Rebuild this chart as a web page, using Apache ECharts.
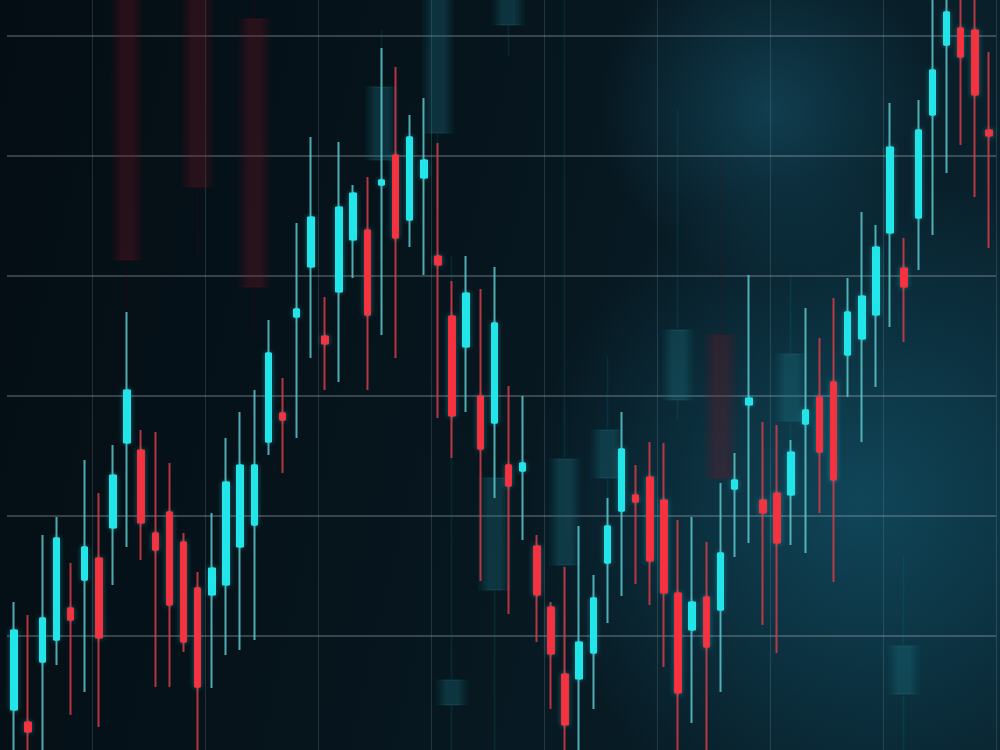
<!DOCTYPE html>
<html>
<head>
<meta charset="utf-8">
<style>
html,body{margin:0;padding:0;background:#06121a;overflow:hidden;width:1000px;height:750px;}
#c{position:absolute;left:0;top:-24px;width:1000px;height:780px;}
</style>
<script src="https://cdn.jsdelivr.net/npm/echarts@6/dist/echarts.min.js"></script>
</head>
<body>
<div id="c"></div>
<script>
// ---- data (price units) ----
const categories = Array.from({length: 70}, (_, i) => 'T' + (i + 1));
const opens  = [46,34,94,116,148,176,198,228,313,306,223,244,214,168,161,171,209,231,314,343,439,489,420,464,516,526,571,601,536,578,500,440,409,360,333,291,285,210,149,82,77,103,193,245,261,279,256,163,126,159,146,267,351,256,263,261,332,359,374,401,417,441,523,488,538,641,711,728,726,626];
const closes = [126,24,138,218,136,209,118,281,366,233,206,151,114,69,188,274,291,291,403,336,447,539,412,549,563,441,576,518,619,596,491,340,463,307,433,270,293,161,102,31,114,158,230,307,254,195,163,63,154,109,203,276,358,243,213,304,346,304,276,444,460,509,609,469,626,686,744,699,661,620];
const lows   = [0,0,0,91,41,64,29,171,209,196,69,69,104,0,68,101,106,116,301,283,318,398,366,374,478,366,421,398,509,481,338,298,344,175,258,142,216,114,47,0,0,47,133,160,172,151,89,0,33,0,64,199,213,131,103,211,203,243,174,359,314,369,429,414,486,521,583,611,559,508];
const highs  = [154,141,221,239,193,296,263,311,444,326,324,293,223,184,243,318,344,366,436,378,533,619,459,614,571,579,708,689,641,658,613,475,500,467,489,370,360,221,154,189,230,181,258,344,291,314,313,236,239,214,273,303,481,334,331,316,448,418,458,478,544,531,653,518,656,766,776,776,776,704];

// blurred background candles: index, open, close, low, high
const ghostIdx   = [8,13,17,26,30,35,39,34,42,47,50,55,63,31];
const ghostOpen  = [766,766,737,596,623,731,191,166,278,356,421,335,62,51];
const ghostClose = [496,569,469,669,766,766,297,278,326,426,278,402,110,76];
const ghostLow   = [336,496,426,496,546,700,56,0,150,336,196,250,0,0];
const ghostHigh  = [776,776,770,726,776,776,756,300,400,646,593,480,200,500];

const yTicks = {min: 0, max: 780, interval: 120};

const CYAN = '#22e6ea', RED = '#ff2a38';
const wickData = categories.map((c, i) => [opens[i], closes[i], lows[i], highs[i]]);
const bodyData = categories.map((c, i) => [opens[i], closes[i], Math.min(opens[i], closes[i]), Math.max(opens[i], closes[i])]);
const ghostData = ghostIdx.map((g, k) => [g, ghostOpen[k], ghostClose[k], ghostLow[k], ghostHigh[k]]);

function ghostLayer(width, alpha) {
  return {
    type: 'candlestick', data: ghostData, encode: {x: 0, y: [1, 2, 3, 4]},
    barWidth: width, z: 1, silent: true,
    itemStyle: {
      color: 'rgba(35,130,145,' + alpha + ')', color0: 'rgba(125,25,38,' + alpha + ')',
      borderColor: 'rgba(35,130,145,' + (alpha * 0.5) + ')', borderColor0: 'rgba(125,25,38,' + (alpha * 0.5) + ')',
      borderWidth: 2
    }
  };
}

const chart = echarts.init(document.getElementById('c'), null, {renderer: 'canvas'});
chart.setOption({
  backgroundColor: 'transparent',
  animation: false,
  graphic: [
    {type: 'rect', z: -5, silent: true, shape: {x: 0, y: 0, width: 1000, height: 780},
     style: {fill: {type: 'linear', x: 0, y: 0, x2: 1, y2: 0.3, colorStops: [
       {offset: 0, color: '#040d13'}, {offset: 0.45, color: '#06141c'}, {offset: 1, color: '#09212c'}]}}},
    {type: 'circle', z: -4, silent: true, shape: {cx: 770, cy: 134, r: 170},
     style: {fill: {type: 'radial', x: 0.5, y: 0.5, r: 0.5, colorStops: [
       {offset: 0, color: 'rgba(25,95,120,0.5)'}, {offset: 1, color: 'rgba(25,95,120,0)'}]}}},
    {type: 'circle', z: -4, silent: true, shape: {cx: 860, cy: 524, r: 330},
     style: {fill: {type: 'radial', x: 0.5, y: 0.5, r: 0.5, colorStops: [
       {offset: 0, color: 'rgba(20,95,120,0.6)'}, {offset: 1, color: 'rgba(20,95,120,0)'}]}}}
  ],
  grid: {left: 7, right: 4, top: 0, bottom: 0},
  xAxis: {
    type: 'category', data: categories, boundaryGap: true,
    axisLine: {show: false}, axisTick: {show: false}, axisLabel: {show: false},
    splitLine: {show: true, interval: (i) => i % 8 === 6,
      lineStyle: {color: 'rgba(150,175,185,0.2)', width: 1}}
  },
  yAxis: {
    type: 'value', min: yTicks.min, max: yTicks.max, interval: yTicks.interval,
    axisLine: {show: false}, axisTick: {show: false}, axisLabel: {show: false},
    splitLine: {show: true, lineStyle: {color: 'rgba(185,195,205,0.28)', width: 2}}
  },
  series: [
    ghostLayer(32, 0.07),
    ghostLayer(26, 0.08),
    ghostLayer(20, 0.09),
    ghostLayer(14, 0.1),
    {
      name: 'wick', type: 'candlestick', data: wickData, barWidth: 2, z: 3,
      itemStyle: {color: 'rgba(90,200,205,0.85)', color0: 'rgba(215,60,72,0.85)',
        borderColor: 'rgba(90,200,205,0.85)', borderColor0: 'rgba(215,60,72,0.85)', borderWidth: 2}
    },
    {
      name: 'body', type: 'candlestick', data: bodyData, barWidth: 7, z: 4,
      itemStyle: {color: CYAN, color0: RED, borderColor: CYAN, borderColor0: RED, borderWidth: 1,
        shadowBlur: 5, shadowColor: 'rgba(40,220,230,0.35)'}
    }
  ]
});
</script>
</body>
</html>
